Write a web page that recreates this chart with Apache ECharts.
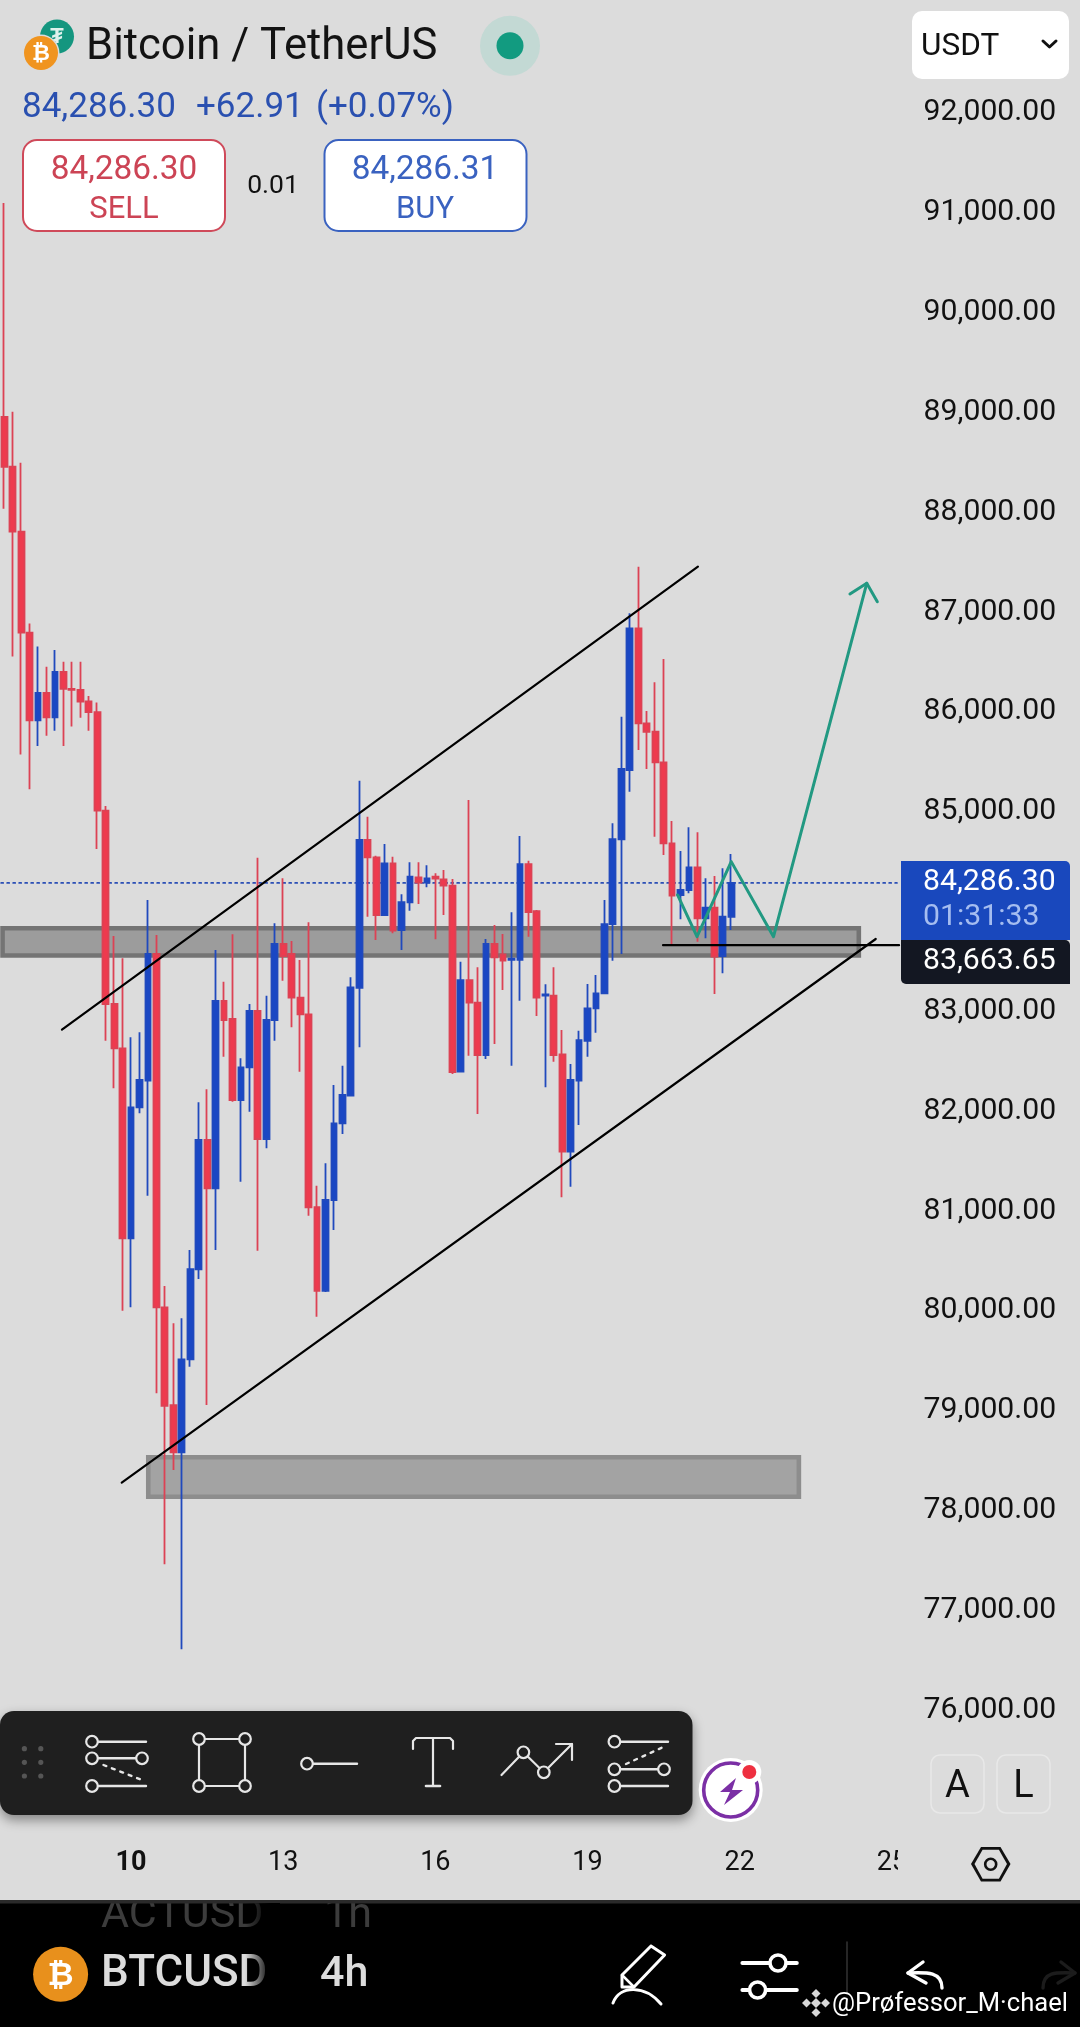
<!DOCTYPE html>
<html><head><meta charset="utf-8">
<style>html,body{margin:0;padding:0;background:#dcdcdc}#c{width:1080px;height:2027px}</style>
<script src="https://cdn.jsdelivr.net/npm/echarts@6/dist/echarts.min.js"></script>
</head><body><div id="c"></div>
<script>
// ---- candle data, 4h bars, first bar = 10th minus 15 bars ----
const opens=[88955,88455,87806,86793,85915,86190,85946,86400,86231,86221,86104,85997,85010,83074,82630,
80727,82039,82306,83575,80036,79057,78584,79515,80417,81712,81228,83104,82924,82112,82440,83004,81722,82914,83675,83575,83137,82971,81038,80202,81111,81879,82156,83237,84717,84543,83965,84483,83815,84093,84343,84289,84349,84323,84259,82396,83314,83087,82563,83675,83572,83515,83515,84476,84005,83157,83157,82570,81595,82306,82706,83031,83181,83875,84724,85418,86837,85885,85801,85495,84683,84166,84216,84443,83932,84038,83555,83948];
const closes=[88455,87806,86793,85915,86190,85946,86400,86231,86221,86104,85997,85010,83074,82630,80727,
82039,82313,83575,80036,79050,78584,79515,80417,81712,81228,83104,82914,82112,82440,83004,81722,82914,83675,83555,83137,82971,81038,80202,81111,81879,82163,83241,84717,84543,83965,84483,83808,84093,84349,84289,84333,84329,84259,82393,83314,83087,82563,83675,83542,83508,83528,84476,83995,83137,83171,82563,81595,82313,82713,83031,83181,83875,84724,85428,86837,85885,85801,85495,84683,84159,84216,84443,83932,84038,83548,83948,84286.3];
const lows=[88035,86554,85572,85224,85659,85761,85812,85659,85853,85940,85812,84626,82706,82230,80002,
80036,81979,81154,79175,77462,78406,76611,79441,80320,79057,80610,82546,82095,81294,81995,80603,81629,82706,83307,82841,82396,80954,79942,80189,80810,81772,82156,82640,83948,83715,83958,83782,83615,84008,84075,84243,83722,83965,82373,82396,82556,81972,82523,82673,83214,82456,83107,83748,82954,82240,82496,81138,81244,81862,82546,82786,83181,83508,83575,85200,85618,85428,84750,84566,83665,83922,84183,83698,83732,83174,83381,83815];
const highs=[91097,89006,88495,86885,86656,86451,86620,86502,86502,86502,86160,86093,85057,83755,83532,
82740,82790,84116,83765,80249,79876,79926,80610,82089,82220,83615,83297,83772,82530,83074,84539,83157,83882,84333,83705,83515,83892,81254,81478,82263,82456,83341,85310,84950,84560,84676,84549,84173,84493,84493,84463,84383,84416,84326,83498,85117,83441,83725,83865,83775,83992,84757,84509,84015,83271,83441,82813,82473,82806,83274,83364,84116,84884,85951,86987,87454,86009,86296,86530,84907,84606,84844,84794,84333,84356,84433,84576];
const firstBar=-15, lastBar=91, barsPerDay=6;
const dayTicks=['10','13','16','19','22','25'];
const boldDay='10';
// ---- drawings: [bar index, price] ----
const lastPrice=84286.30, markedPrice=83663.65;
const channelUpper=[[-8.17,82818],[67.06,87454]];
const channelLower=[[-1.10,78280],[88.09,83725]];
const levelLine=[[62.93,markedPrice],[90.85,markedPrice]];
const lastLine=[[-15.36,lastPrice],[90.6,lastPrice]];
const greenPath=[[64.65,84166],[66.95,83748],[71.0,84500],[76.0,83748],[87.03,87288]];
const greenHead=[[85.04,87181],[87.03,87288],[88.28,87104]];
const zones=[[-15.2,83833,86.09,83560],[2.04,78534,79.0,78139]];
const zoneFill=['#9c9c9c','#a3a3a3'], zoneEdge=['#747474','#8d8d8d'];

const categories=[];
for(let i=firstBar;i<=lastBar;i++){
  const day=10+Math.floor(i/barsPerDay), h=(i-(day-10)*barsPerDay)*4;
  categories.push(day+' '+String(h).padStart(2,'0')+':00');
}
const candles=opens.map((o,i)=>[o,closes[i],lows[i],highs[i]]);
const isTick=v=>v.endsWith(' 00:00')&&dayTicks.includes(v.split(' ')[0]);
const F='Roboto, sans-serif';
const lineSer=(data,color,width,z,type)=>({type:'line',xAxisIndex:1,yAxisIndex:0,data,symbol:'none',silent:true,animation:false,z,
  lineStyle:{color,width,type:type||'solid',cap:'round',join:'round'}});

// ---- graphic helpers for the trading UI ----
const g=[];
const T=(text,x,y,size,fill,align,weight)=>g.push({type:'text',z:100,silent:true,style:{text,x,y:y+size*0.09,fill,font:(weight||'400')+' '+size+'px '+F,textAlign:align||'left',textVerticalAlign:'middle'}});
const R=(x,y,w,h,r,fill,stroke,lw,extra)=>g.push({type:'rect',z:100,silent:true,shape:{x,y,width:w,height:h,r},style:Object.assign({fill:fill||'none',stroke:stroke||'none',lineWidth:lw||0},extra||{})});
const C=(cx,cy,r,fill,stroke,lw)=>g.push({type:'circle',z:100,silent:true,shape:{cx,cy,r},style:{fill:fill||'none',stroke:stroke||'none',lineWidth:lw||0}});
const P=(points,stroke,lw,dash)=>g.push({type:'polyline',z:100,silent:true,shape:{points},style:{fill:'none',stroke,lineWidth:lw,lineDash:dash||null,lineCap:'round',lineJoin:'round'}});
const PG=(points,fill)=>g.push({type:'polygon',z:100,silent:true,shape:{points},style:{fill}});
const B=(x1,y1,cpx1,cpy1,cpx2,cpy2,x2,y2,stroke,lw)=>g.push({type:'bezierCurve',z:100,silent:true,shape:{x1,y1,cpx1,cpy1,cpx2,cpy2,x2,y2},style:{fill:'none',stroke,lineWidth:lw,lineCap:'round'}});

// clip of the "25" tick
R(898,1842,20,40,0,'#dcdcdc');
// header
C(57,36.5,17,'#14967f');
T('₮',57,36,22,'#dff1ec','center','700');
C(41,53,18.5,'#dcdcdc');
C(41,53,17,'#f0941f');
T('₿',41,53,22,'#fff','center','700');
T('Bitcoin / TetherUS',86,44,43.6,'#131313');
C(510,45.7,30,'#c3d9d4');
C(510,45.7,13.5,'#129b80');
T('84,286.30',22,105,35,'#2a50b0');
T('+62.91',196,105,35,'#2a50b0');
T('(+0.07%)',316,105,35,'#2a50b0');
R(23,140,202,91,14,'#fff','#cf4a5a',2);
T('84,286.30',124,168,33.4,'#cc4455','center');
T('SELL',124,207,31,'#cc4455','center');
T('0.01',273,184,26.5,'#111','center');
R(324.5,140,202,91,14,'#fff','#3a62c0',2);
T('84,286.31',425,168,33.4,'#3a62c0','center');
T('BUY',425,207,31,'#3a62c0','center');
// currency box
R(912,11,157,68,10,'#fff');
T('USDT',921,44,31.5,'#111');
P([[1043,41],[1049.5,47],[1056,41]],'#111',3);
// price tags
R(901,861,169,79,[0,5,0,0],'#1948bd');
T('84,286.30',923,879.5,30.2,'#fff');
T('01:31:33',923,914.5,30.2,'#a5bdf0');
R(901,940,169,44,[0,5,0,5],'#131722');
T('83,663.65',923,958.5,30.2,'#fff');
// drawing toolbar
R(0,1711,692.5,104,14,'#1f1f1f',null,0,{shadowBlur:12,shadowColor:'rgba(0,0,0,0.4)',shadowOffsetY:5});
[24.4,40.8].forEach(x=>[1748.7,1762.3,1776].forEach(y=>C(x,y,2.6,'#555')));
const W='#e6e6e6', O=(x,y)=>C(x,y,5.8,'#1f1f1f',W,2.2);
P([[92,1741.7],[146,1741.7]],W,2.4);P([[92,1758.3],[142,1758.3]],W,2.4);P([[92,1786],[146,1786]],W,2.4);
P([[103.5,1765],[142,1780]],W,2.4,[3,6]);
O(92,1741.7);O(92,1758.3);O(142,1758.3);O(92,1786);
g.push({type:'rect',z:100,silent:true,shape:{x:199,y:1739,width:46,height:47},style:{fill:'none',stroke:W,lineWidth:2.2}});
O(199,1739);O(245,1739);O(199,1786);O(245,1786);
P([[307,1763.7],[357,1763.7]],W,2.4);O(307,1763.7);
P([[413,1749],[413,1741],[416,1738],[450,1738],[453,1741],[453,1749]],W,2.2);
P([[433,1738],[433,1786]],W,2.2);P([[426,1786],[440,1786]],W,2.6);
P([[501.5,1775],[523.4,1752.3],[543.8,1772.3],[572,1744]],W,2.2);P([[556,1744],[572,1744],[572,1760]],W,2.2);O(523.4,1752.3);O(543.8,1772.3);
P([[614.4,1741.7],[668,1741.7]],W,2.4);P([[614.4,1769.3],[664,1769.3]],W,2.4);P([[614.4,1786],[668,1786]],W,2.4);
P([[626,1764],[664,1746.7]],W,2.4,[3,6]);
O(614.4,1741.7);O(614.4,1769.3);O(664,1769.3);O(614.4,1786);
// flash button
C(730.7,1790,32,'#fff');C(730.7,1790,27,'#fff','#7b2fa5',3.6);
PG([[736,1778],[720,1792],[730,1792],[724,1805],[743,1790],[732,1790]],'#7b2fa5');
C(749.3,1772,12,'#fff');C(749.3,1772,7,'#ee3040');
// A / L
R(931,1755,53,58,9,'none','#e8e8e8',1.6);T('A',957.5,1784,38,'#111','center');
R(997,1755,53,58,9,'none','#e8e8e8',1.6);T('L',1023.5,1784,38,'#111','center');
// settings hexagon
PG([[971,1864],[981,1847],[1000.5,1847],[1010.5,1864],[1000.5,1881.5],[981,1881.5]],'#111');
PG([[974.5,1864],[982.6,1849.8],[998.9,1849.8],[1007,1864],[998.9,1878.8],[982.6,1878.8]],'#dcdcdc');
C(990.7,1864.3,5.5,'none','#111',2.6);
// bottom bar
R(0,1900,1080,127,0,'#000');
T('ACTUSD',101,1912,43,'#3c3c3c','left','400');
T('1h',324,1912,43,'#3c3c3c','left','400');
R(0,1888,1080,12,0,'#dcdcdc');
R(0,1900,1080,3.5,0,'#2a2a2a');
C(60.6,1974.3,27.5,'#e8901c');
T('₿',60.6,1974,32,'#fff','center','700');
T('BTCUSD',101,1971,44,'#dcdcdc','left','500');
T('4h',320,1971,43,'#dcdcdc','left','500');
R(245,1903,35,115,0,{type:'linear',x:0,y:0,x2:1,y2:0,colorStops:[{offset:0,color:'rgba(0,0,0,0)'},{offset:0.75,color:'#000'},{offset:1,color:'#000'}]});
// pen, sliders, undo/redo
P([[651,1946],[664.6,1955],[634,1987],[622,1987],[622,1975],[651,1946]],'#fff',3);
P([[622,1975],[634,1987]],'#fff',2.5);
B(613,2003,620,1985,645,1985,661,2004,'#fff',3);
P([[742.4,1963],[796.8,1963]],'#fff',4);P([[742.4,1990],[796.8,1990]],'#fff',4);
C(778,1963,8,'#000','#fff',3.6);C(757.6,1990,8,'#000','#fff',3.6);
P([[847,1942],[847,1993]],'#333',1.5);
P([[923,1962],[908,1973],[926,1983]],'#fff',3.4);B(908,1973,928,1972,942,1972,942,1988,'#fff',3.4);
P([[1061,1962],[1075,1973],[1058,1983]],'#1c1c1c',3.4);B(1075,1973,1055,1972,1043,1972,1043,1988,'#1c1c1c',3.4);
// watermark
[[816,1993.5,4.5],[816,2012.5,4.5],[806.5,2003,4.5],[825.5,2003,4.5],[816,2003,5]].forEach(d=>PG([[d[0],d[1]-d[2]],[d[0]+d[2],d[1]],[d[0],d[1]+d[2]],[d[0]-d[2],d[1]]],'#d8d8d8'));
T('@Prøfessor_M·chael',832,2002,25.6,'#fff');

const chart=echarts.init(document.getElementById('c'),null,{renderer:'canvas'});
const BAR=8.465, left=130-(0-firstBar+0.5)*BAR, n=categories.length;
chart.setOption({
  animation:false,
  backgroundColor:'#dcdcdc',
  grid:{left:left,width:n*BAR,top:13,height:1797.1,containLabel:false},
  tooltip:{show:false},
  xAxis:[
   {type:'category',data:categories,boundaryGap:true,
    axisLine:{show:false},axisTick:{show:false},splitLine:{show:false},
    axisLabel:{show:true,margin:40,interval:(i,v)=>isTick(v),hideOverlap:false,color:'#111',fontFamily:F,fontSize:27,
      formatter:v=>{const d=v.split(' ')[0];return d===boldDay?'{b|'+d+'}':d;},
      rich:{b:{fontFamily:F,fontSize:27,fontWeight:700,color:'#111'}}}},
   {type:'value',min:firstBar-0.5,max:lastBar+0.5,show:false,splitLine:{show:false}}
  ],
  yAxis:{type:'value',position:'right',min:75000,max:93000,interval:1000,scale:true,
    axisLine:{show:false},axisTick:{show:false},splitLine:{show:false},
    axisLabel:{show:true,showMinLabel:false,showMaxLabel:false,margin:19,color:'#111',fontFamily:F,fontSize:30.2,
      formatter:v=>v.toLocaleString('en-US',{minimumFractionDigits:2,maximumFractionDigits:2})}},
  series:[
   {type:'custom',xAxisIndex:1,yAxisIndex:0,silent:true,z:1,clip:false,data:zones.map((d,i)=>[d[0],d[1],d[2],d[3],i]),
    encode:{x:[0,2],y:[1,3]},
    renderItem:(p,api)=>{
      const a=api.coord([api.value(0),api.value(1)]),b=api.coord([api.value(2),api.value(3)]),k=api.value(4);
      return {type:'rect',shape:{x:a[0],y:a[1],width:b[0]-a[0],height:b[1]-a[1]},style:{fill:zoneFill[k],stroke:zoneEdge[k],lineWidth:4.6}};
    }},
   lineSer(lastLine,'#2b4fb5',1.8,2,[2,4]),
   {type:'candlestick',xAxisIndex:0,yAxisIndex:0,data:candles,barWidth:6.3,z:3,silent:true,
    itemStyle:{color:'#1a47c4',color0:'#ee3a4e',borderColor:'#2049bd',borderColor0:'#dc4254',borderColorDoji:'#dc4254',borderWidth:1.8}},
   lineSer(channelUpper,'#000',2.2,4),
   lineSer(channelLower,'#000',2.2,4),
   lineSer(levelLine,'#000',2.2,4),
   lineSer(greenPath,'#229982',3,5),
   lineSer(greenHead,'#229982',3,5)
  ],
  graphic:{elements:g}
});
</script></body></html>
